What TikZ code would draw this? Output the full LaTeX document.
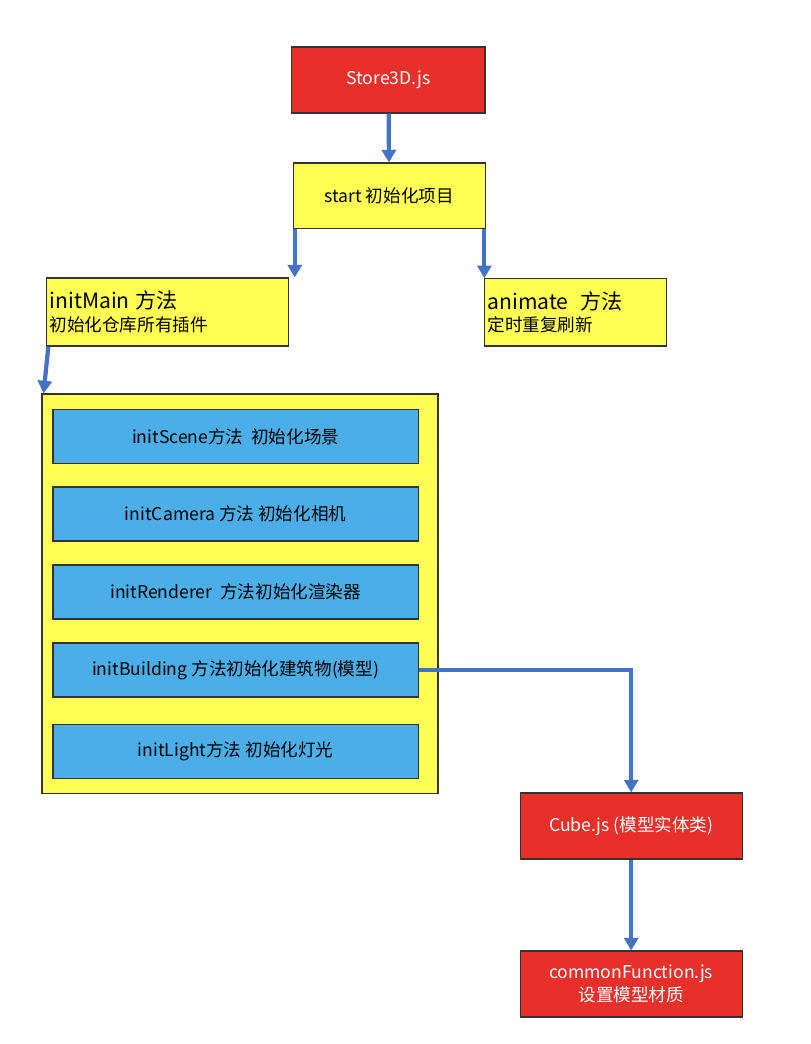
\documentclass[tikz,border=0pt]{standalone}
\usepackage{fontspec}
\setmainfont{Noto Sans CJK SC}
\usetikzlibrary{arrows.meta,positioning}
\definecolor{boxred}{HTML}{E8302A}
\definecolor{boxyellow}{HTML}{FFFF55}
\definecolor{boxblue}{HTML}{4BAEE8}
\definecolor{arrowblue}{HTML}{4472C4}
\begin{document}
\begin{tikzpicture}
	[
		font=\fontsize{12.5}{16}\selectfont,
		box/.style={draw=black!80, line width=0.8pt, align=center, inner sep=2pt},
		redbox/.style={box, fill=boxred, text=white, minimum width=5.55cm, minimum height=1.65cm},
		yelbox/.style={box, fill=boxyellow},
		bluebox/.style={box, fill=boxblue, minimum width=9.13cm, minimum height=1.35cm},
		arrow/.style={-{Triangle[length=9pt,width=10pt]}, arrowblue, line width=3pt}
	]

	\useasboundingbox (0,0) rectangle (20.25,-26.1);

	% top of the flow
	\node[redbox, minimum width=4.83cm] (store) at (9.71,-2.0) {Store3D.js};
	\node[yelbox, minimum width=4.8cm, minimum height=1.63cm] (start) at (9.73,-4.89) {start 初始化项目};

	% main branches
	\node[yelbox, minimum height=1.7cm, text width=5.9cm, align=left] (main) at (4.19,-7.8)
		{{\fontsize{15}{18}\selectfont initMain 方法}\\初始化仓库所有插件};
	\node[yelbox, minimum height=1.68cm, text width=4.4cm, align=left] (animate) at (14.39,-7.81)
		{{\fontsize{15}{18}\selectfont animate\ \ 方法}\\定时重复刷新};

	% init methods
	\node[yelbox, minimum width=9.9cm, minimum height=9.98cm] (group) at (6.0,-14.84) {};
	\node[bluebox] (scene) at (5.89,-10.91) {initScene方法\ \ 初始化场景};
	\node[bluebox] (camera) at (5.89,-12.85) {initCamera 方法 初始化相机};
	\node[bluebox] (renderer) at (5.89,-14.8) {initRenderer\ \ 方法初始化渲染器};
	\node[bluebox] (building) at (5.89,-16.75) {initBuilding 方法初始化建筑物(模型)};
	\node[bluebox] (light) at (5.89,-18.78) {initLight方法 初始化灯光};

	% model files
	\node[redbox] (cube) at (15.78,-20.65) {Cube.js (模型实体类)};
	\node[redbox] (common) at (15.78,-24.6) {commonFunction.js\\设置模型材质};

	% connectors
	\draw[arrow] (store) -- (start);
	\draw[arrow] ([xshift=1.5pt]start.south west) -- ([xshift=1.5pt]start.south west |- main.north);
	\draw[arrow] ([xshift=-1pt]start.south east) -- ([xshift=-1pt]start.south east |- animate.north);
	\draw[arrow] ([xshift=1.5pt]main.south west) -- ([xshift=1.5pt]group.north west);
	\draw[arrow, line width=2.5pt] (building.east) -| (cube.north);
	\draw[arrow] (cube) -- (common);

\end{tikzpicture}
\end{document}
